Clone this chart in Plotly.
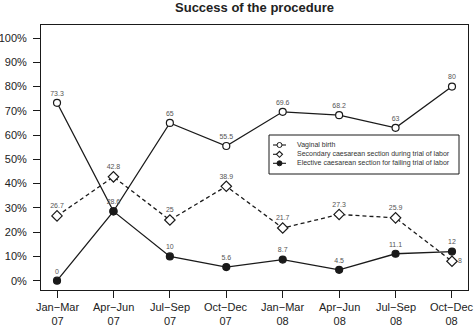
import plotly.graph_objects as go

periods = ["Jan\u2212Mar<br>07", "Apr\u2212Jun<br>07", "Jul\u2212Sep<br>07", "Oct\u2212Dec<br>07",
           "Jan\u2212Mar<br>08", "Apr\u2212Jun<br>08", "Jul\u2212Sep<br>08", "Oct\u2212Dec<br>08"]
vaginal = [73.3, 28.6, 65, 55.5, 69.6, 68.2, 63, 80]
secondary = [26.7, 42.8, 25, 38.9, 21.7, 27.3, 25.9, 8]
elective = [0, 28.6, 10, 5.6, 8.7, 4.5, 11.1, 12]
series_names = ["Vaginal birth",
                "Secondary caesarean section during trial of labor",
                "Elective caesarean section for failing trial of labor"]
ytickvals = [0, 10, 20, 30, 40, 50, 60, 70, 80, 90, 100]
yticktext = [f"{v}%" for v in ytickvals]

W, H = 474, 326
ML, MR, MT, MB = 41, 6, 25, 36
PW, PH = W - ML - MR, H - MT - MB

x = list(range(len(periods)))
ink = "#1a1a1a"
lab = "#555555"
FONT = "Liberation Sans, Arial"


def fmt(v):
    return f"{v:g}"


vag_text = [fmt(v) for v in vaginal]
vag_text[1] = ""  # shares its label with the elective point
sec_text = [fmt(v) for v in secondary]
sec_pos = ["top center"] * len(secondary)
sec_pos[-1] = "middle right"
ele_text = [fmt(v) for v in elective]

styles = [
    dict(dash="solid", symbol="circle", size=7, fill="white"),
    dict(dash="4px,3px", symbol="diamond", size=8, fill="white"),
    dict(dash="solid", symbol="circle", size=7, fill=ink),
]
data = [vaginal, secondary, elective]
texts = [vag_text, sec_text, ele_text]
positions = ["top center", sec_pos, "top center"]

fig = go.Figure()
for name, ys, st, tx, pos in zip(series_names, data, styles, texts, positions):
    fig.add_trace(go.Scatter(
        x=x, y=ys, mode="lines+markers+text", name=name, showlegend=False,
        line=dict(color=ink, width=1.3, dash=st["dash"]),
        marker=dict(symbol=st["symbol"], size=st["size"], color=st["fill"],
                    line=dict(color=ink, width=1.2)),
        text=tx, textposition=pos,
        textfont=dict(size=7, color=lab, family=FONT),
    ))

# ---- hand-built legend (R style, compact) ----
def px_x(p):
    return (p - ML) / PW


def px_y(p):
    return (H - MB - p) / PH


shapes = [dict(type="rect", xref="paper", yref="paper",
               x0=px_x(269), x1=px_x(459), y0=px_y(174), y1=px_y(135),
               line=dict(color=ink, width=1), fillcolor="white", layer="above")]
annotations = []
row_y = [145, 154.3, 163.3]
for name, st, ry in zip(series_names, styles, row_y):
    shapes.append(dict(type="line", xref="paper", yref="paper",
                       x0=px_x(273), x1=px_x(286), y0=px_y(ry), y1=px_y(ry),
                       line=dict(color=ink, width=1.1,
                                 dash="dash" if st["dash"] != "solid" else "solid"),
                       layer="above"))
    r = 2.5
    cx = 279.5
    if st["symbol"] == "diamond":
        r = 3
        path = (f"M {px_x(cx)},{px_y(ry - r)} L {px_x(cx + r)},{px_y(ry)} "
                f"L {px_x(cx)},{px_y(ry + r)} L {px_x(cx - r)},{px_y(ry)} Z")
        shapes.append(dict(type="path", xref="paper", yref="paper", path=path,
                           fillcolor="white", line=dict(color=ink, width=1.1),
                           layer="above"))
    else:
        shapes.append(dict(type="circle", xref="paper", yref="paper",
                           x0=px_x(cx - r), x1=px_x(cx + r),
                           y0=px_y(ry + r), y1=px_y(ry - r),
                           fillcolor=st["fill"], line=dict(color=ink, width=1),
                           layer="above"))
    annotations.append(dict(xref="paper", yref="paper", x=px_x(295), y=px_y(ry),
                            xanchor="left", yanchor="middle", showarrow=False,
                            text=name, font=dict(size=7, color="#333333", family=FONT)))

# category labels under the x axis (as annotations so the last one is not dropped)
for xi, label in zip(x, periods):
    annotations.append(dict(xref="x", yref="paper", x=xi, y=0, yanchor="top",
                            xanchor="center", yshift=-9, showarrow=False,
                            text=label, font=dict(size=11, color="#222222", family=FONT)))

fig.update_layout(
    width=W, height=H,
    margin=dict(l=ML, r=MR, t=MT, b=MB, autoexpand=False),
    paper_bgcolor="white", plot_bgcolor="white",
    font=dict(family=FONT, color="#222222", size=11),
    title=dict(text="<b>Success of the procedure</b>", x=(ML + ML + PW) / 2 / W,
               xanchor="center", y=1 - 7 / H, yanchor="middle", yref="container",
               font=dict(size=13, color="#222222"), automargin=False),
    showlegend=False,
    shapes=shapes,
    annotations=annotations,
)
fig.update_xaxes(
    range=[-0.284, 7.284], tickvals=x, showticklabels=False, automargin=False,
    showline=True, linecolor=ink, linewidth=1, mirror=True,
    ticks="outside", ticklen=7, tickcolor=ink, showgrid=False, zeroline=False,
)
fig.update_yaxes(
    range=[-3.83, 105.36], tickvals=ytickvals, ticktext=yticktext, automargin=False,
    showline=True, linecolor=ink, linewidth=1, mirror=True,
    ticks="outside", ticklen=7, tickcolor=ink, showgrid=False, zeroline=False,
    ticklabelstandoff=4, tickfont=dict(size=11, color="#222222"),
)

fig.write_html("out.html")
